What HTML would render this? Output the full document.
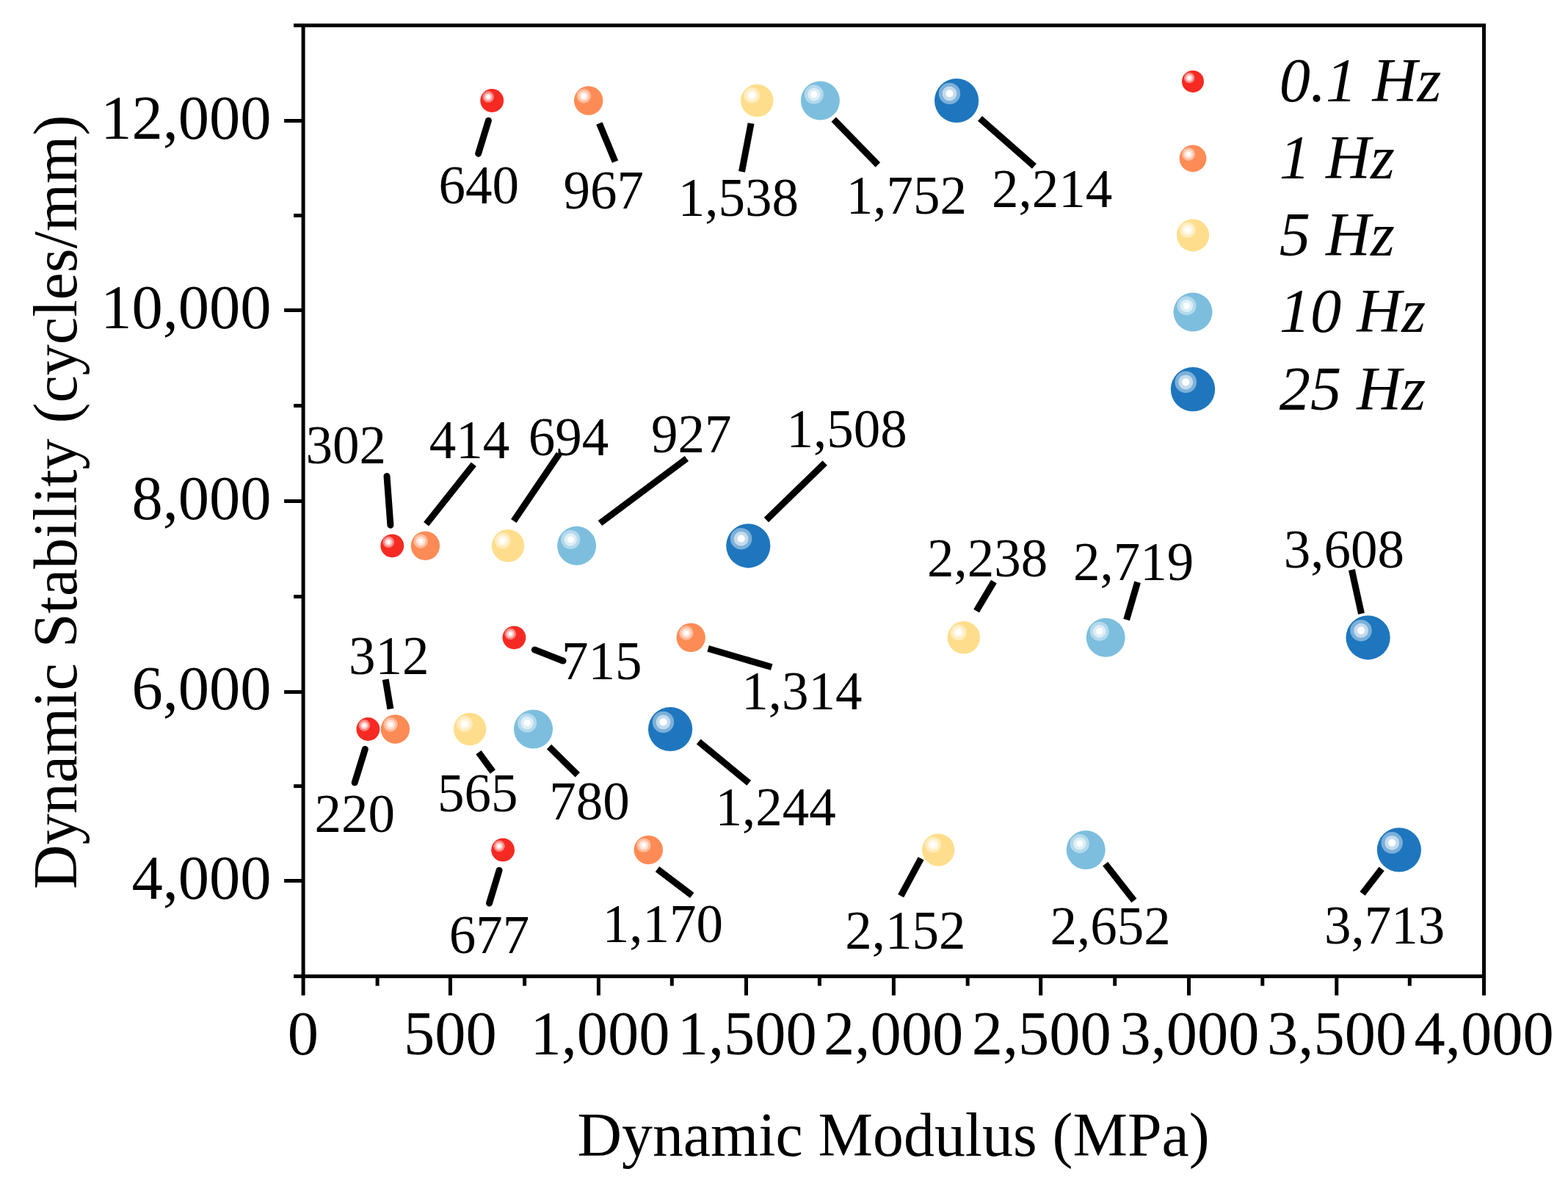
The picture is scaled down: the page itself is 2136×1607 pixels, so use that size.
<!DOCTYPE html>
<html><head><meta charset="utf-8"><title>Dynamic Stability vs Dynamic Modulus</title>
<style>html,body{margin:0;padding:0;background:#fff;}svg{display:block;}text{font-family:"Liberation Serif",serif;}</style>
</head><body>
<svg width="2136" height="1607" viewBox="0 0 2136 1607">
<rect width="2136" height="1607" fill="#fff"/>
<line x1="665.4" y1="164.2" x2="651.6" y2="209.2" stroke="#000" stroke-width="9" stroke-linecap="round"/>
<line x1="816.4" y1="168.0" x2="838.0" y2="220.1" stroke="#000" stroke-width="9" stroke-linecap="butt"/>
<line x1="1023.1" y1="168.0" x2="1010.5" y2="233.9" stroke="#000" stroke-width="9" stroke-linecap="butt"/>
<line x1="1135.7" y1="162.7" x2="1195.9" y2="224.5" stroke="#000" stroke-width="9" stroke-linecap="butt"/>
<line x1="1335.0" y1="161.4" x2="1408.9" y2="226.3" stroke="#000" stroke-width="9" stroke-linecap="butt"/>
<line x1="527.0" y1="648.5" x2="531.9" y2="715.2" stroke="#000" stroke-width="9" stroke-linecap="round"/>
<line x1="645.3" y1="632.3" x2="580.6" y2="713.8" stroke="#000" stroke-width="9" stroke-linecap="butt"/>
<line x1="761.6" y1="618.2" x2="699.8" y2="709.6" stroke="#000" stroke-width="9" stroke-linecap="butt"/>
<line x1="935.4" y1="624.5" x2="817.5" y2="712.5" stroke="#000" stroke-width="9" stroke-linecap="butt"/>
<line x1="1123.7" y1="630.4" x2="1043.9" y2="708.0" stroke="#000" stroke-width="9" stroke-linecap="butt"/>
<line x1="1353.9" y1="792.1" x2="1330.1" y2="832.0" stroke="#000" stroke-width="9" stroke-linecap="butt"/>
<line x1="1549.6" y1="792.7" x2="1534.6" y2="844.0" stroke="#000" stroke-width="9" stroke-linecap="butt"/>
<line x1="1841.4" y1="776.0" x2="1854.5" y2="835.7" stroke="#000" stroke-width="9" stroke-linecap="butt"/>
<line x1="728.4" y1="884.9" x2="767.0" y2="900.0" stroke="#000" stroke-width="9" stroke-linecap="round"/>
<line x1="964.6" y1="883.3" x2="1051.2" y2="908.5" stroke="#000" stroke-width="9" stroke-linecap="butt"/>
<line x1="525.2" y1="925.3" x2="531.9" y2="965.6" stroke="#000" stroke-width="9" stroke-linecap="butt"/>
<line x1="497.3" y1="1020.3" x2="483.2" y2="1065.8" stroke="#000" stroke-width="9" stroke-linecap="round"/>
<line x1="652.0" y1="1024.6" x2="671.3" y2="1051.0" stroke="#000" stroke-width="9" stroke-linecap="butt"/>
<line x1="748.0" y1="1017.0" x2="786.8" y2="1055.3" stroke="#000" stroke-width="9" stroke-linecap="butt"/>
<line x1="951.7" y1="1010.0" x2="1020.2" y2="1066.3" stroke="#000" stroke-width="9" stroke-linecap="butt"/>
<line x1="680.1" y1="1185.2" x2="666.5" y2="1230.1" stroke="#000" stroke-width="9" stroke-linecap="round"/>
<line x1="895.5" y1="1183.7" x2="942.7" y2="1219.3" stroke="#000" stroke-width="9" stroke-linecap="butt"/>
<line x1="1254.6" y1="1169.1" x2="1227.2" y2="1220.2" stroke="#000" stroke-width="9" stroke-linecap="butt"/>
<line x1="1505.7" y1="1176.4" x2="1544.9" y2="1226.6" stroke="#000" stroke-width="9" stroke-linecap="butt"/>
<line x1="1882.2" y1="1183.3" x2="1856.0" y2="1217.0" stroke="#000" stroke-width="9" stroke-linecap="butt"/>
<circle cx="670.2" cy="137.0" r="15.9" fill="#f62a22"/><circle cx="665.1" cy="131.9" r="7.8" fill="#fa837f"/><circle cx="665.1" cy="131.9" r="5.2" fill="#fdc8c6"/><circle cx="665.1" cy="131.9" r="2.7" fill="#fff"/>
<circle cx="801.7" cy="137.0" r="19.7" fill="#fd8b56"/><circle cx="795.4" cy="130.7" r="9.7" fill="#febc9d"/><circle cx="795.4" cy="130.7" r="6.5" fill="#fee1d3"/><circle cx="795.4" cy="130.7" r="3.3" fill="#fff"/>
<circle cx="1031.3" cy="137.0" r="22.2" fill="#fede8c"/><circle cx="1024.2" cy="129.9" r="10.9" fill="#feecbc"/><circle cx="1024.2" cy="129.9" r="7.3" fill="#fff6e1"/><circle cx="1024.2" cy="129.9" r="3.8" fill="#fff"/>
<circle cx="1117.4" cy="137.0" r="26.5" fill="#7dbede"/><circle cx="1108.9" cy="128.5" r="13.0" fill="#b4d9ec"/><circle cx="1108.9" cy="128.5" r="8.7" fill="#ddeef6"/><circle cx="1108.9" cy="128.5" r="4.5" fill="#fff"/>
<circle cx="1303.1" cy="137.0" r="30.1" fill="#1e76be"/><circle cx="1293.5" cy="127.4" r="14.7" fill="#7cb0d9"/><circle cx="1293.5" cy="127.4" r="9.9" fill="#c4dbee"/><circle cx="1293.5" cy="127.4" r="5.1" fill="#fff"/>
<circle cx="534.3" cy="743.3" r="15.9" fill="#f62a22"/><circle cx="529.2" cy="738.2" r="7.8" fill="#fa837f"/><circle cx="529.2" cy="738.2" r="5.2" fill="#fdc8c6"/><circle cx="529.2" cy="738.2" r="2.7" fill="#fff"/>
<circle cx="579.4" cy="743.3" r="19.7" fill="#fd8b56"/><circle cx="573.1" cy="737.0" r="9.7" fill="#febc9d"/><circle cx="573.1" cy="737.0" r="6.5" fill="#fee1d3"/><circle cx="573.1" cy="737.0" r="3.3" fill="#fff"/>
<circle cx="692.0" cy="743.3" r="22.2" fill="#fede8c"/><circle cx="684.8" cy="736.2" r="10.9" fill="#feecbc"/><circle cx="684.8" cy="736.2" r="7.3" fill="#fff6e1"/><circle cx="684.8" cy="736.2" r="3.8" fill="#fff"/>
<circle cx="785.6" cy="743.3" r="26.5" fill="#7dbede"/><circle cx="777.2" cy="734.8" r="13.0" fill="#b4d9ec"/><circle cx="777.2" cy="734.8" r="8.7" fill="#ddeef6"/><circle cx="777.2" cy="734.8" r="4.5" fill="#fff"/>
<circle cx="1019.3" cy="743.3" r="30.1" fill="#1e76be"/><circle cx="1009.6" cy="733.7" r="14.7" fill="#7cb0d9"/><circle cx="1009.6" cy="733.7" r="9.9" fill="#c4dbee"/><circle cx="1009.6" cy="733.7" r="5.1" fill="#fff"/>
<circle cx="700.4" cy="868.3" r="15.9" fill="#f62a22"/><circle cx="695.3" cy="863.2" r="7.8" fill="#fa837f"/><circle cx="695.3" cy="863.2" r="5.2" fill="#fdc8c6"/><circle cx="695.3" cy="863.2" r="2.7" fill="#fff"/>
<circle cx="941.2" cy="868.3" r="19.7" fill="#fd8b56"/><circle cx="934.9" cy="862.0" r="9.7" fill="#febc9d"/><circle cx="934.9" cy="862.0" r="6.5" fill="#fee1d3"/><circle cx="934.9" cy="862.0" r="3.3" fill="#fff"/>
<circle cx="1312.8" cy="868.3" r="22.2" fill="#fede8c"/><circle cx="1305.7" cy="861.2" r="10.9" fill="#feecbc"/><circle cx="1305.7" cy="861.2" r="7.3" fill="#fff6e1"/><circle cx="1305.7" cy="861.2" r="3.8" fill="#fff"/>
<circle cx="1506.2" cy="868.3" r="26.5" fill="#7dbede"/><circle cx="1497.7" cy="859.8" r="13.0" fill="#b4d9ec"/><circle cx="1497.7" cy="859.8" r="8.7" fill="#ddeef6"/><circle cx="1497.7" cy="859.8" r="4.5" fill="#fff"/>
<circle cx="1863.6" cy="868.3" r="30.1" fill="#1e76be"/><circle cx="1854.0" cy="858.7" r="14.7" fill="#7cb0d9"/><circle cx="1854.0" cy="858.7" r="9.9" fill="#c4dbee"/><circle cx="1854.0" cy="858.7" r="5.1" fill="#fff"/>
<circle cx="501.4" cy="993.0" r="15.9" fill="#f62a22"/><circle cx="496.3" cy="987.9" r="7.8" fill="#fa837f"/><circle cx="496.3" cy="987.9" r="5.2" fill="#fdc8c6"/><circle cx="496.3" cy="987.9" r="2.7" fill="#fff"/>
<circle cx="538.4" cy="993.0" r="19.7" fill="#fd8b56"/><circle cx="532.0" cy="986.7" r="9.7" fill="#febc9d"/><circle cx="532.0" cy="986.7" r="6.5" fill="#fee1d3"/><circle cx="532.0" cy="986.7" r="3.3" fill="#fff"/>
<circle cx="640.1" cy="993.0" r="22.2" fill="#fede8c"/><circle cx="633.0" cy="985.9" r="10.9" fill="#feecbc"/><circle cx="633.0" cy="985.9" r="7.3" fill="#fff6e1"/><circle cx="633.0" cy="985.9" r="3.8" fill="#fff"/>
<circle cx="726.5" cy="993.0" r="26.5" fill="#7dbede"/><circle cx="718.1" cy="984.5" r="13.0" fill="#b4d9ec"/><circle cx="718.1" cy="984.5" r="8.7" fill="#ddeef6"/><circle cx="718.1" cy="984.5" r="4.5" fill="#fff"/>
<circle cx="913.1" cy="993.0" r="30.1" fill="#1e76be"/><circle cx="903.5" cy="983.4" r="14.7" fill="#7cb0d9"/><circle cx="903.5" cy="983.4" r="9.9" fill="#c4dbee"/><circle cx="903.5" cy="983.4" r="5.1" fill="#fff"/>
<circle cx="685.1" cy="1157.4" r="15.9" fill="#f62a22"/><circle cx="680.0" cy="1152.3" r="7.8" fill="#fa837f"/><circle cx="680.0" cy="1152.3" r="5.2" fill="#fdc8c6"/><circle cx="680.0" cy="1152.3" r="2.7" fill="#fff"/>
<circle cx="883.3" cy="1157.4" r="19.7" fill="#fd8b56"/><circle cx="877.0" cy="1151.1" r="9.7" fill="#febc9d"/><circle cx="877.0" cy="1151.1" r="6.5" fill="#fee1d3"/><circle cx="877.0" cy="1151.1" r="3.3" fill="#fff"/>
<circle cx="1278.2" cy="1157.4" r="22.2" fill="#fede8c"/><circle cx="1271.1" cy="1150.3" r="10.9" fill="#feecbc"/><circle cx="1271.1" cy="1150.3" r="7.3" fill="#fff6e1"/><circle cx="1271.1" cy="1150.3" r="3.8" fill="#fff"/>
<circle cx="1479.2" cy="1157.4" r="26.5" fill="#7dbede"/><circle cx="1470.8" cy="1148.9" r="13.0" fill="#b4d9ec"/><circle cx="1470.8" cy="1148.9" r="8.7" fill="#ddeef6"/><circle cx="1470.8" cy="1148.9" r="4.5" fill="#fff"/>
<circle cx="1905.9" cy="1157.4" r="30.1" fill="#1e76be"/><circle cx="1896.2" cy="1147.8" r="14.7" fill="#7cb0d9"/><circle cx="1896.2" cy="1147.8" r="9.9" fill="#c4dbee"/><circle cx="1896.2" cy="1147.8" r="5.1" fill="#fff"/>
<g font-size="73.0" fill="#000">
<text x="597.6" y="277.1">640</text>
<text x="767.4" y="284.4">967</text>
<text x="923.7" y="294.2">1,538</text>
<text x="1152.8" y="290.7">1,752</text>
<text x="1351.1" y="281.8">2,214</text>
<text x="416.5" y="630.6">302</text>
<text x="584.8" y="623.9">414</text>
<text x="719.7" y="620.3">694</text>
<text x="887.1" y="615.5">927</text>
<text x="1071.4" y="609.2">1,508</text>
<text x="1263.0" y="784.5">2,238</text>
<text x="1462.1" y="789.9">2,719</text>
<text x="1748.7" y="773.2">3,608</text>
<text x="764.9" y="924.6">715</text>
<text x="1010.2" y="965.5">1,314</text>
<text x="474.9" y="918.3">312</text>
<text x="428.4" y="1133.3">220</text>
<text x="595.9" y="1104.8">565</text>
<text x="748.2" y="1116.4">780</text>
<text x="974.4" y="1123.6">1,244</text>
<text x="611.7" y="1297.6">677</text>
<text x="820.7" y="1282.8">1,170</text>
<text x="1151.2" y="1292.1">2,152</text>
<text x="1430.6" y="1285.6">2,652</text>
<text x="1803.9" y="1284.9">3,713</text>
</g>
<g stroke="#000" stroke-width="5" fill="none" stroke-linecap="butt">
<rect x="413.1" y="34.6" width="1608.4" height="1295.0"/>
<line x1="387.1" y1="164.5" x2="413.1" y2="164.5"/>
<line x1="400.1" y1="293.5" x2="413.1" y2="293.5"/>
<line x1="387.1" y1="422.5" x2="413.1" y2="422.5"/>
<line x1="400.1" y1="552.5" x2="413.1" y2="552.5"/>
<line x1="387.1" y1="682.5" x2="413.1" y2="682.5"/>
<line x1="400.1" y1="812.5" x2="413.1" y2="812.5"/>
<line x1="387.1" y1="942.4" x2="413.1" y2="942.4"/>
<line x1="400.1" y1="1070.6" x2="413.1" y2="1070.6"/>
<line x1="387.1" y1="1199.5" x2="413.1" y2="1199.5"/>
<line x1="400.1" y1="34.6" x2="413.1" y2="34.6"/>
<line x1="400.1" y1="1329.6" x2="413.1" y2="1329.6"/>
<line x1="413.1" y1="1329.6" x2="413.1" y2="1355.6"/>
<line x1="514.1" y1="1329.6" x2="514.1" y2="1342.6"/>
<line x1="613.4" y1="1329.6" x2="613.4" y2="1355.6"/>
<line x1="714.6" y1="1329.6" x2="714.6" y2="1342.6"/>
<line x1="815.4" y1="1329.6" x2="815.4" y2="1355.6"/>
<line x1="915.3" y1="1329.6" x2="915.3" y2="1342.6"/>
<line x1="1016.5" y1="1329.6" x2="1016.5" y2="1355.6"/>
<line x1="1116.4" y1="1329.6" x2="1116.4" y2="1342.6"/>
<line x1="1217.4" y1="1329.6" x2="1217.4" y2="1355.6"/>
<line x1="1318.2" y1="1329.6" x2="1318.2" y2="1342.6"/>
<line x1="1417.7" y1="1329.6" x2="1417.7" y2="1355.6"/>
<line x1="1518.7" y1="1329.6" x2="1518.7" y2="1342.6"/>
<line x1="1619.5" y1="1329.6" x2="1619.5" y2="1355.6"/>
<line x1="1719.8" y1="1329.6" x2="1719.8" y2="1342.6"/>
<line x1="1820.8" y1="1329.6" x2="1820.8" y2="1355.6"/>
<line x1="1920.3" y1="1329.6" x2="1920.3" y2="1342.6"/>
<line x1="2021.5" y1="1329.6" x2="2021.5" y2="1355.6"/>
</g>
<g font-size="84.5" fill="#000">
<text x="369.6" y="188.6" text-anchor="end">12,000</text>
<text x="369.6" y="446.8" text-anchor="end">10,000</text>
<text x="369.6" y="706.9" text-anchor="end">8,000</text>
<text x="369.6" y="966.4" text-anchor="end">6,000</text>
<text x="369.6" y="1224.4" text-anchor="end">4,000</text>
<text x="391.7" y="1436.3">0</text>
<text x="549.9" y="1436.3">500</text>
<text x="722.4" y="1436.3">1,000</text>
<text x="922.7" y="1436.3">1,500</text>
<text x="1122.0" y="1436.3">2,000</text>
<text x="1323.7" y="1436.3">2,500</text>
<text x="1525.4" y="1436.3">3,000</text>
<text x="1726.0" y="1436.3">3,500</text>
<text x="1926.5" y="1436.3">4,000</text>
<text x="786.5" y="1573.9" font-size="83.8">Dynamic Modulus (MPa)</text>
<text transform="translate(103.7,1211.0) rotate(-90)" font-size="84.0">Dynamic Stability (cycles/mm)</text>
</g>
<g font-style="italic" font-size="84.5" fill="#000">
<circle cx="1625.0" cy="110.9" r="15.0" fill="#f62a22"/><circle cx="1620.2" cy="106.1" r="7.3" fill="#fa837f"/><circle cx="1620.2" cy="106.1" r="5.0" fill="#fdc8c6"/><circle cx="1620.2" cy="106.1" r="2.6" fill="#fff"/>
<text x="1742.7" y="137.7">0.1 Hz</text>
<circle cx="1625.0" cy="215.8" r="18.4" fill="#fd8b56"/><circle cx="1619.1" cy="209.9" r="9.0" fill="#febc9d"/><circle cx="1619.1" cy="209.9" r="6.1" fill="#fee1d3"/><circle cx="1619.1" cy="209.9" r="3.1" fill="#fff"/>
<text x="1742.7" y="243.1">1 Hz</text>
<circle cx="1625.0" cy="320.3" r="22.1" fill="#fede8c"/><circle cx="1617.9" cy="313.2" r="10.8" fill="#feecbc"/><circle cx="1617.9" cy="313.2" r="7.3" fill="#fff6e1"/><circle cx="1617.9" cy="313.2" r="3.8" fill="#fff"/>
<text x="1742.7" y="347.5">5 Hz</text>
<circle cx="1625.0" cy="424.9" r="26.5" fill="#7dbede"/><circle cx="1616.5" cy="416.4" r="13.0" fill="#b4d9ec"/><circle cx="1616.5" cy="416.4" r="8.7" fill="#ddeef6"/><circle cx="1616.5" cy="416.4" r="4.5" fill="#fff"/>
<text x="1742.7" y="451.8">10 Hz</text>
<circle cx="1625.0" cy="530.1" r="30.2" fill="#1e76be"/><circle cx="1615.3" cy="520.4" r="14.8" fill="#7cb0d9"/><circle cx="1615.3" cy="520.4" r="10.0" fill="#c4dbee"/><circle cx="1615.3" cy="520.4" r="5.1" fill="#fff"/>
<text x="1742.7" y="557.6">25 Hz</text>
</g>
</svg>
</body></html>
